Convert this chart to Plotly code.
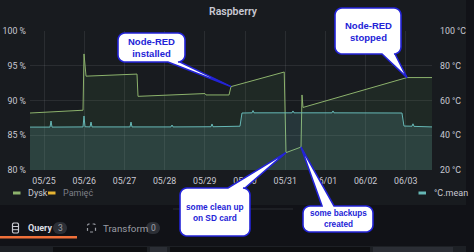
import math
import pandas as pd
import plotly.graph_objects as go

# ---------------- data ----------------
disk_time = ["2023-05-24 15:38", "2023-05-25 23:17", "2023-05-25 23:53", "2023-05-26 01:05",
             "2023-05-27 07:31", "2023-05-27 08:07", "2023-05-29 00:07", "2023-05-29 00:43",
             "2023-05-29 14:27", "2023-05-29 15:39", "2023-05-30 23:25", "2023-05-31 00:29",
             "2023-05-31 09:26", "2023-05-31 10:02", "2023-05-31 10:38", "2023-06-03 00:43",
             "2023-06-03 15:39"]
disk_pct = [88.2, 88.6, 96.7, 93.5, 93.8, 90.6, 91.0, 90.8, 90.8, 92.0, 94.1, 82.5,
            83.3, 90.8, 89.0, 93.3, 93.3]

temp_time = ["2023-05-24 15:38", "2023-05-25 03:35", "2023-05-25 04:11", "2023-05-25 04:47",
             "2023-05-25 23:17", "2023-05-25 23:53", "2023-05-26 00:29", "2023-05-26 03:28",
             "2023-05-26 04:04", "2023-05-26 04:40", "2023-05-27 03:20", "2023-05-27 03:56",
             "2023-05-27 04:32", "2023-05-28 03:49", "2023-05-28 04:25", "2023-05-28 05:01",
             "2023-05-29 03:42", "2023-05-29 04:18", "2023-05-29 04:54", "2023-05-29 21:01",
             "2023-05-29 22:12", "2023-05-30 04:11", "2023-05-30 04:47", "2023-05-30 05:23",
             "2023-05-31 04:03", "2023-05-31 04:39", "2023-05-31 05:15", "2023-06-01 03:56",
             "2023-06-01 04:32", "2023-06-01 05:08", "2023-06-02 21:43", "2023-06-02 22:55",
             "2023-06-03 03:42", "2023-06-03 04:18", "2023-06-03 04:54", "2023-06-03 15:39"]
temp_c = [44.7, 44.7, 48.2, 44.7, 44.8, 51.1, 44.9, 44.8, 47.6, 44.8, 44.8, 47.6,
          44.8, 44.8, 45.9, 44.8, 44.9, 46.5, 44.9, 45.2, 52.8, 52.9, 54.2, 52.9,
          52.9, 54.0, 52.9, 52.9, 54.0, 52.9, 52.8, 45.3, 45.2, 46.6, 45.1, 44.8]

x_range = ["2023-05-24 15:38", "2023-06-03 15:39"]
x_ticks = ["2023-05-25", "2023-05-26", "2023-05-27", "2023-05-28", "2023-05-29",
           "2023-05-30", "2023-05-31", "2023-06-01", "2023-06-02", "2023-06-03"]
x_ticktext = ["05/25", "05/26", "05/27", "05/28", "05/29", "05/30", "05/31", "06/01", "06/02", "06/03"]
pct_range = [80, 100]
pct_ticks = [80, 85, 90, 95, 100]
pct_ticktext = ["80 %", "85 %", "90 %", "95 %", "100 %"]
temp_range = [20, 100]
temp_ticks = [20, 40, 60, 80, 100]
temp_ticktext = ["20 °C", "40 °C", "60 °C", "80 °C", "100 °C"]

legend_left = ["Dysk", "Pamięć"]
legend_right = ["°C.mean"]

# callouts: text, index of the Dysk point pointed at
callout_text = ["Node-RED<br>installed", "Node-RED<br>stopped", "some clean up<br>on SD card", "some backups<br>created"]
callout_point = [9, 15, 11, 12]

# ---------------- style ----------------
W, H = 474, 252
L, R, T, B = 30, 42, 31, 82
PW, PH = W - L - R, H - T - B
BG_PANEL = "#181b1f"
BG_OUTER = "#111217"
TXT = "#c8c9d2"
GRID = "rgba(204,204,220,0.10)"
GREEN = "rgb(140,178,108)"
YELLOW = "rgb(230,180,50)"
TEAL = "rgb(102,184,182)"
BLUE = "rgb(35,35,215)"
NARROW = "Liberation Sans Narrow, Arial Narrow, Roboto, sans-serif"
ARIAL = "Liberation Sans, Arial, sans-serif"

t0 = pd.Timestamp(x_range[0])
t1 = pd.Timestamp(x_range[1])


def data_to_px(t, v):
    t = pd.Timestamp(t)
    X = L + (t - t0) / (t1 - t0) * PW
    Y = T + (pct_range[1] - v) / (pct_range[1] - pct_range[0]) * PH
    return X, Y


def px(X, Y):
    return (X - L) / PW, (T + PH - Y) / PH


def rounded_path(x0, y0, x1, y1, r, side=None, b0=None, b1=None, tip=None):
    pts = []

    def arc(cx, cy, a0, a1):
        for k in range(7):
            a = a0 + (a1 - a0) * k / 6
            pts.append((cx + r * math.cos(a), cy + r * math.sin(a)))

    arc(x0 + r, y0 + r, math.pi, 1.5 * math.pi)
    if side == "top":
        pts.extend([(b0, y0), tip, (b1, y0)])
    arc(x1 - r, y0 + r, 1.5 * math.pi, 2 * math.pi)
    arc(x1 - r, y1 - r, 0, 0.5 * math.pi)
    if side == "bottom":
        pts.extend([(b1, y1), tip, (b0, y1)])
    arc(x0 + r, y1 - r, 0.5 * math.pi, math.pi)
    conv = [px(a, b) for a, b in pts]
    return "M " + " L ".join(f"{a:.5f},{b:.5f}" for a, b in conv) + " Z"


fig = go.Figure()
fig.add_trace(go.Scatter(x=disk_time, y=disk_pct, mode="lines", name=legend_left[0],
                         line=dict(color=GREEN, width=1), fill="tozeroy",
                         fillcolor="rgba(115,191,105,0.09)", yaxis="y", showlegend=False,
                         hoverinfo="skip"))
fig.add_trace(go.Scatter(x=temp_time, y=temp_c, mode="lines", name=legend_right[0],
                         line=dict(color=TEAL, width=1), fill="tozeroy",
                         fillcolor="rgba(110,200,200,0.16)", yaxis="y2", showlegend=False,
                         hoverinfo="skip"))

shapes = []
ann = []


def rect_px(x0, y0, x1, y1, color, layer="below"):
    a0, b0 = px(x0, y1)
    a1, b1 = px(x1, y0)
    shapes.append(dict(type="rect", xref="paper", yref="paper", x0=a0, y0=b0, x1=a1, y1=b1,
                       fillcolor=color, line=dict(width=0), layer=layer))


rect_px(0, 205, W, H, BG_OUTER)
rect_px(466, 0, W, H, BG_OUTER)
rect_px(0, 246, 466, H, "#1d2025")
rect_px(53, 247, 147, H, "#0e0f12")
rect_px(150, 247, 167, H, "#2b2e35")
rect_px(170, 247, 370, H, "#0e0f12")
rect_px(373, 247, 453, H, "#2b2e35")
rect_px(173, 208.5, 293, 209.5, "#2a2d33")
rect_px(0, 236, 77, 238.5, "#f0703a")


def text_px(X, Y, s, size, color, family=NARROW, weight=400, anchor="left"):
    a, b = px(X, Y)
    ann.append(dict(text=s, x=a, y=b, xref="paper", yref="paper", showarrow=False,
                    xanchor=anchor, yanchor="middle",
                    font=dict(family=family, size=size, color=color, weight=weight)))


# title
text_px(233, 11, "Raspberry", 10.5, TXT, weight=600, anchor="center")

# axis tick labels for the right axis colour check handled by axis itself

# legend
def legend_item(xd, label, color, txtcolor):
    a0, b = px(xd, 193)
    a1, _ = px(xd + 7.5, 193)
    shapes.append(dict(type="line", xref="paper", yref="paper", x0=a0, x1=a1, y0=b, y1=b,
                       line=dict(color=color, width=3)))
    text_px(xd + 13, 193, label, 9, txtcolor)


legend_item(13, legend_left[0], GREEN, TXT)
legend_item(48, legend_left[1], YELLOW, "#7d7f87")
legend_item(418.5, legend_right[0], TEAL, TXT)

# bottom tabs
text_px(26, 228, "Query", 9, "#dcdde3", weight=700)
text_px(101, 228, "Transform", 9.8, "#9a9ca4")
for bx, s in [(53, "3"), (146, "0")]:
    shapes.append(dict(type="path", xref="paper", yref="paper",
                       path=rounded_path(bx, 222, bx + 14, 234, 6),
                       fillcolor="#2c2f36", line=dict(width=0)))
    text_px(bx + 7, 228, s, 8.5, "#a0a2aa", anchor="center")
# query icon (database)
shapes.append(dict(type="path", xref="paper", yref="paper",
                   path=rounded_path(12.5, 223, 18.5, 233, 1.5),
                   fillcolor="rgba(0,0,0,0)", line=dict(color="#c9cad2", width=1.2)))
for yy in (226.5, 229.7):
    a0, b = px(12.5, yy)
    a1, _ = px(18.5, yy)
    shapes.append(dict(type="line", xref="paper", yref="paper", x0=a0, x1=a1, y0=b, y1=b,
                       line=dict(color="#c9cad2", width=1)))
# transform icon
shapes.append(dict(type="path", xref="paper", yref="paper",
                   path=rounded_path(87.5, 224, 95.5, 232, 1.5),
                   fillcolor="rgba(0,0,0,0)", line=dict(color="#9a9ca4", width=1.2, dash="dot")))

# callouts
callout_box = [(118, 33, 185, 62, "bottom", 168, 180),
               (335, 8, 401, 54, "bottom", 382, 395),
               (180, 188, 250, 236, "top", 228, 245),
               (303, 206, 373, 232, "top", 322, 334)]
callout_font = [9.5, 9.5, 8.3, 8.2]
for (x0, y0, x1, y1, side, b0, b1), text, idx, fs in zip(callout_box, callout_text, callout_point, callout_font):
    tip = data_to_px(disk_time[idx], disk_pct[idx])
    shapes.append(dict(type="path", xref="paper", yref="paper",
                       path=rounded_path(x0, y0, x1, y1, 7, side, b0, b1, tip),
                       fillcolor="white", line=dict(color=BLUE, width=1.6), layer="above"))
    cx, cy = px((x0 + x1) / 2, (y0 + y1) / 2)
    ann.append(dict(text=text, x=cx, y=cy, xref="paper", yref="paper", showarrow=False,
                    xanchor="center", yanchor="middle",
                    font=dict(family=ARIAL, size=fs, color=BLUE, weight=700)))

fig.update_layout(
    width=W, height=H,
    margin=dict(l=L, r=R, t=T, b=B, autoexpand=False),
    paper_bgcolor=BG_PANEL, plot_bgcolor=BG_PANEL,
    showlegend=False,
    xaxis=dict(type="date", range=x_range, tickvals=x_ticks, ticktext=x_ticktext,
               showgrid=True, gridcolor=GRID, gridwidth=1, zeroline=False, showline=False,
               ticks="", ticklabelstandoff=4,
               tickfont=dict(family=NARROW, size=8.8, color=TXT), fixedrange=True),
    yaxis=dict(range=pct_range, tickvals=pct_ticks, ticktext=pct_ticktext,
               showgrid=True, gridcolor=GRID, zeroline=False, showline=False, ticks="",
               ticklabelstandoff=3,
               tickfont=dict(family=NARROW, size=8.8, color=TXT)),
    yaxis2=dict(range=temp_range, tickvals=temp_ticks, ticktext=temp_ticktext, overlaying="y",
                side="right", showgrid=False, zeroline=False, showline=False, ticks="",
                ticklabelstandoff=7,
                tickfont=dict(family=NARROW, size=8.8, color=TXT)),
    shapes=shapes, annotations=ann,
)

fig.write_html("out.html")
